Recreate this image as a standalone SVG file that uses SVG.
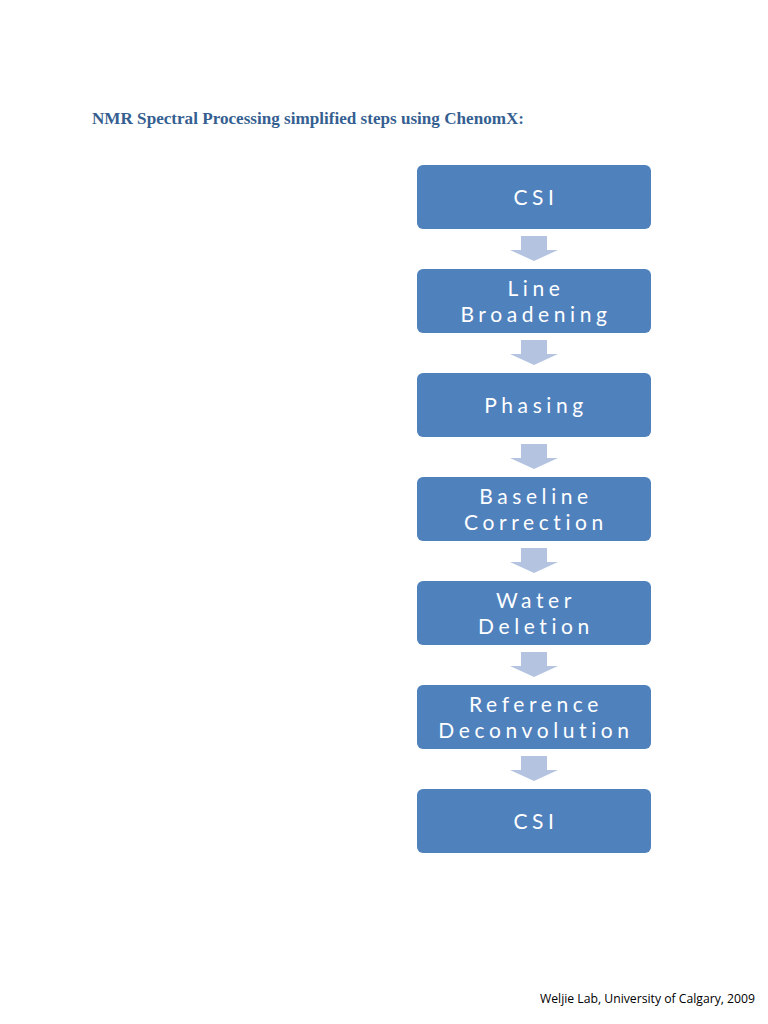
<svg xmlns="http://www.w3.org/2000/svg" width="768" height="1024" viewBox="0 0 768 1024">
<style>
.box{fill:#4f81bd;}
.lbl{font-family:Lato,"Open Sans",sans-serif;font-size:21px;letter-spacing:4.6px;fill:#ffffff;text-anchor:middle;}
.arr{fill:#b4c4e0;}
.title{font-family:"Liberation Serif",serif;font-weight:bold;font-size:16.5px;fill:#365f91;}
.foot{font-family:"Open Sans","Liberation Sans",sans-serif;font-size:12.5px;fill:#000000;}
</style>
<defs>
<path id="ar" d="M-13,0 H13 V14 H24 L0,25 L-24,14 H-13 Z"/>
</defs>
<rect width="768" height="1024" fill="#ffffff"/>
<text class="title" x="92" y="124" textLength="432" lengthAdjust="spacingAndGlyphs">NMR Spectral Processing simplified steps using ChenomX:</text>
<g id="connectors">
<use href="#ar" class="arr" x="534" y="236"/>
<use href="#ar" class="arr" x="534" y="340"/>
<use href="#ar" class="arr" x="534" y="444"/>
<use href="#ar" class="arr" x="534" y="548"/>
<use href="#ar" class="arr" x="534" y="652"/>
<use href="#ar" class="arr" x="534" y="756"/>
</g>
<g id="n1"><rect class="box" x="417" y="165" width="234" height="64" rx="6"/><text class="lbl" x="536" y="205">CSI</text></g>
<g id="n2"><rect class="box" x="417" y="269" width="234" height="64" rx="6"/><text class="lbl" x="536" y="296">Line</text><text class="lbl" x="536" y="322">Broadening</text></g>
<g id="n3"><rect class="box" x="417" y="373" width="234" height="64" rx="6"/><text class="lbl" x="536" y="413">Phasing</text></g>
<g id="n4"><rect class="box" x="417" y="477" width="234" height="64" rx="6"/><text class="lbl" x="536" y="504">Baseline</text><text class="lbl" x="536" y="530">Correction</text></g>
<g id="n5"><rect class="box" x="417" y="581" width="234" height="64" rx="6"/><text class="lbl" x="536" y="608">Water</text><text class="lbl" x="536" y="634">Deletion</text></g>
<g id="n6"><rect class="box" x="417" y="685" width="234" height="64" rx="6"/><text class="lbl" x="536" y="712">Reference</text><text class="lbl" x="536" y="738">Deconvolution</text></g>
<g id="n7"><rect class="box" x="417" y="789" width="234" height="64" rx="6"/><text class="lbl" x="536" y="829">CSI</text></g>
<text class="foot" x="540" y="1003" textLength="215" lengthAdjust="spacingAndGlyphs">Weljie Lab, University of Calgary, 2009</text>
</svg>
